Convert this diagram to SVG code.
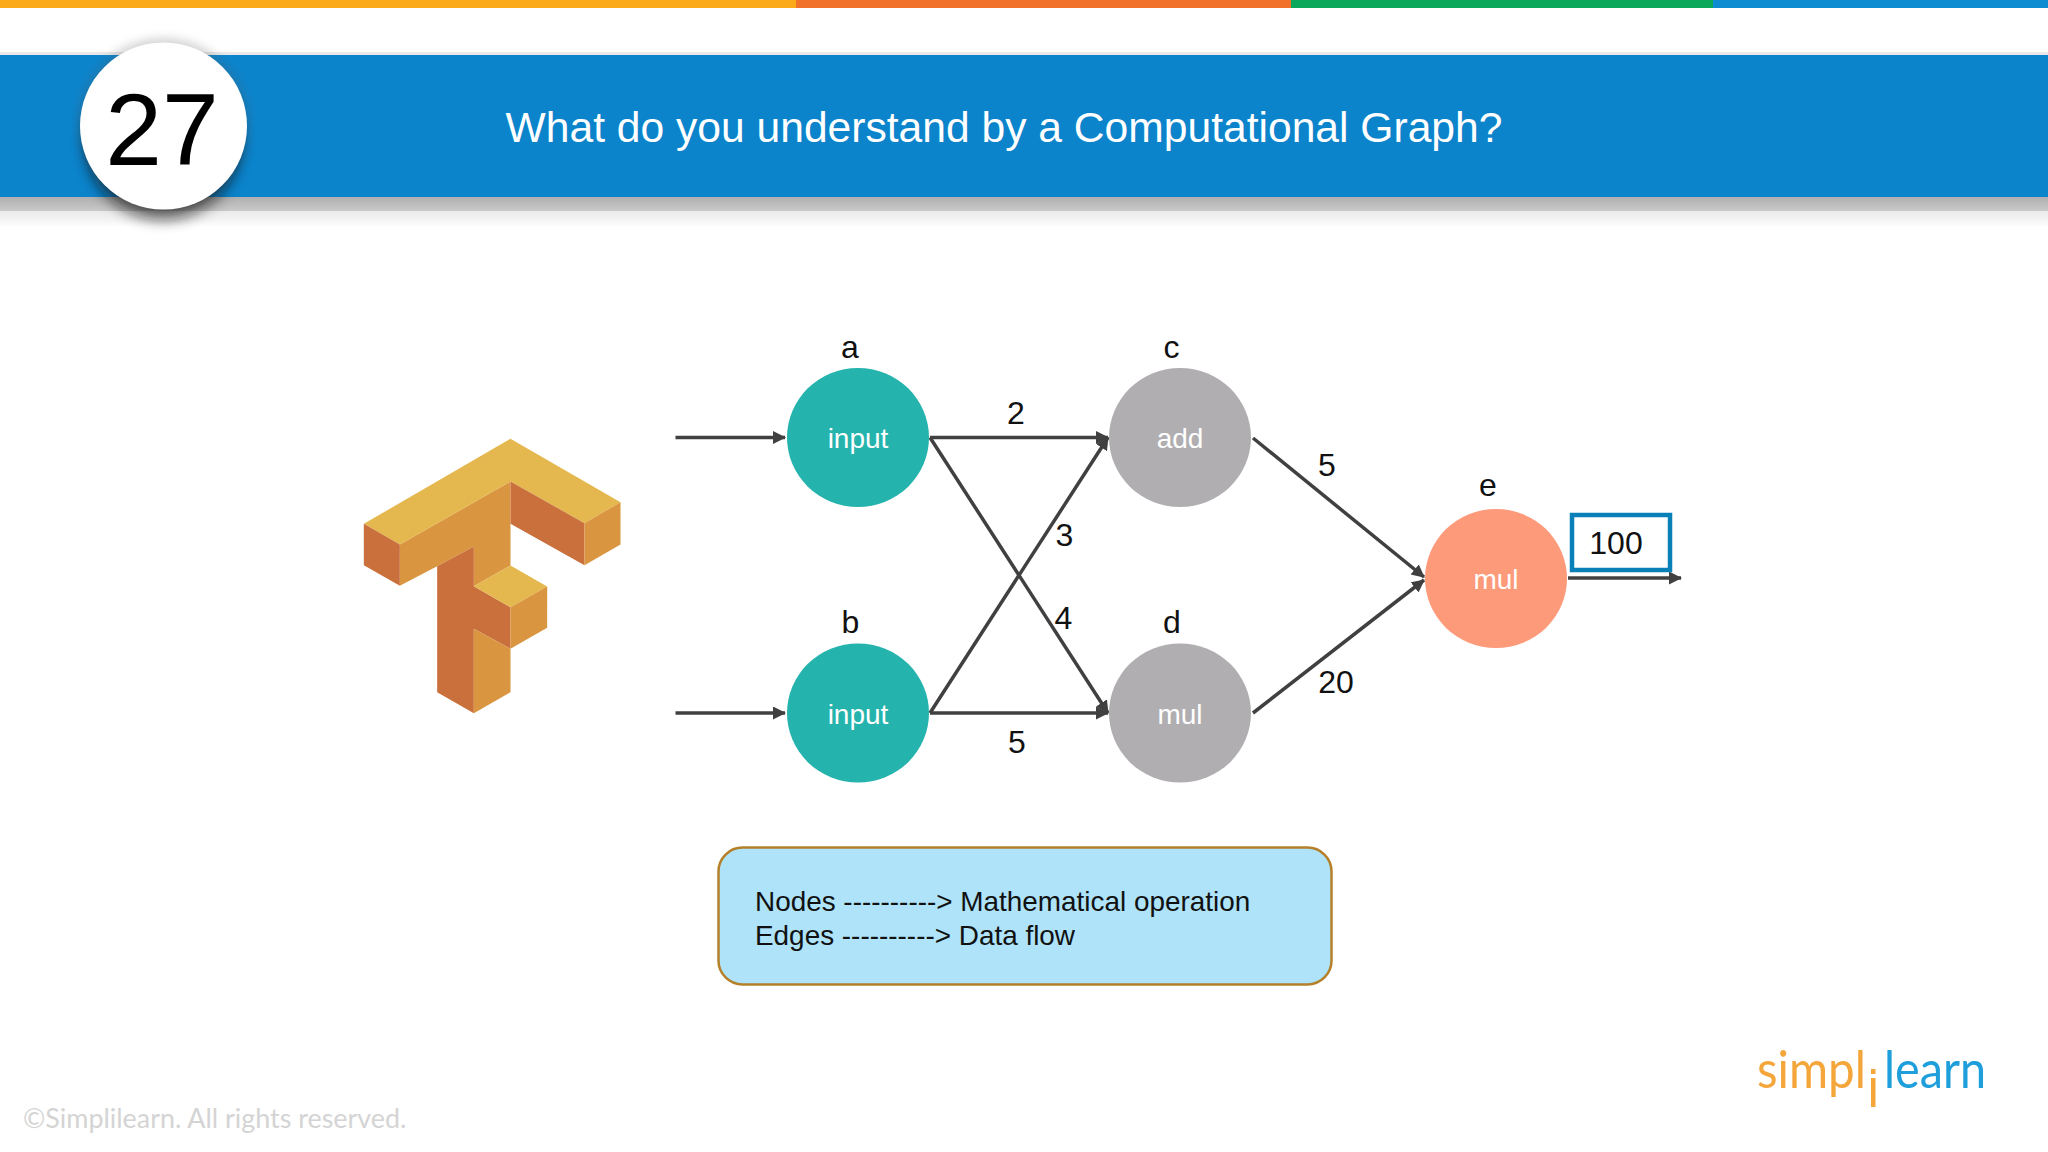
<svg xmlns="http://www.w3.org/2000/svg" width="2048" height="1152" viewBox="0 0 2048 1152">
<style>
text{font-family:"Liberation Sans",Arial,sans-serif}
.l{font-size:32px;fill:#111;text-anchor:middle}
.n{font-size:28px;fill:#fff;text-anchor:middle}
.e{fill:none;stroke:#404040;stroke-width:3.500;marker-end:url(#arr)}
.t1{fill:#e4b84f}.t2{fill:#d9953f}.t3{fill:#c9703c}
</style>
<defs>
<marker id="arr" markerUnits="userSpaceOnUse" markerWidth="14" markerHeight="14" refX="12" refY="6.5" orient="auto"><path d="M0 0L13 6.5L0 13Z" fill="#404040"/></marker>
<filter id="blur" x="-50%" y="-50%" width="200%" height="200%"><feGaussianBlur stdDeviation="7"/></filter>
<filter id="blur2" x="-50%" y="-50%" width="200%" height="200%"><feGaussianBlur stdDeviation="5"/></filter>
<linearGradient id="sh" x1="0" y1="0" x2="0" y2="1"><stop offset="0" stop-color="#b0b0b0"/><stop offset=".45" stop-color="#c8c8c8"/><stop offset=".48" stop-color="#ebebeb"/><stop offset=".75" stop-color="#f3f3f3"/><stop offset="1" stop-color="#fff"/></linearGradient>
</defs>
<rect width="2048" height="1152" fill="#fff"/>
<g id="header">
<rect width="796" height="8" fill="#fbaa19"/>
<rect x="796" width="495" height="8" fill="#f1712a"/>
<rect x="1291" width="422" height="8" fill="#0ba85c"/>
<rect x="1713" width="335" height="8" fill="#0d8cd2"/>
<rect y="52" width="2048" height="3" fill="#e9e9e9"/>
<rect y="197" width="2048" height="30" fill="url(#sh)"/>
<rect y="55" width="2048" height="142" fill="#0c84cc"/>
<text x="1004" y="142" font-size="42.600" fill="#fff" text-anchor="middle">What do you understand by a Computational Graph?</text>
</g>
<g id="badge">
<circle cx="163.500" cy="124" r="86" fill="#555" opacity=".25" filter="url(#blur2)"/>
<circle cx="163" cy="142" r="78" fill="#111" opacity=".6" filter="url(#blur)"/>
<circle cx="163.500" cy="126" r="83.500" fill="#fff"/>
<text x="162" y="165" font-size="102" fill="#000" text-anchor="middle">27</text>
</g>
<g id="tf-logo" transform="translate(340.500 420.500) scale(.33333)">
<path class="t2" d="M178 372L510 183V435L400 497V378L290 437L178 496Z"/>
<path class="t1" d="M510 55L840 245L732 308L510 183L178 372L70 310Z"/>
<path class="t3" d="M70 310L178 372V496L70 434Z"/>
<path class="t3" d="M510 183L732 308V434L510 310Z"/>
<path class="t2" d="M732 308L840 245V372L732 434Z"/>
<path class="t3" d="M290 437L400 378V497L510 560V685L400 625V878L290 815Z"/>
<path class="t1" d="M400 497L510 435L620 498L510 560Z"/>
<path class="t2" d="M510 560L620 498V622L510 685Z"/>
<path class="t2" d="M400 625L510 685V815L400 878Z"/>
</g>
<g id="connectors">
<path class="e" d="M675.500 437.500H785"/>
<path class="e" d="M675.500 713H785"/>
<path class="e" d="M930 437.500H1108"/>
<path class="e" d="M930 437.500L1108 713"/>
<path class="e" d="M930 713L1108 437.500"/>
<path class="e" d="M930 713H1108"/>
<path class="e" d="M1253 438L1424 577"/>
<path class="e" d="M1253 713L1424 580"/>
<path class="e" d="M1568 578H1681"/>
</g>
<g id="edge-labels">
<text class="l" x="1016" y="424">2</text>
<text class="l" x="1064.500" y="546">3</text>
<text class="l" x="1063.500" y="629">4</text>
<text class="l" x="1017" y="753">5</text>
<text class="l" x="1327" y="476">5</text>
<text class="l" x="1336" y="693">20</text>
</g>
<g id="node-a"><ellipse cx="858" cy="437.500" rx="71" ry="69.500" fill="#25b3ad"/><text class="n" x="858" y="448">input</text><text class="l" x="850" y="358">a</text></g>
<g id="node-b"><ellipse cx="858" cy="713" rx="71" ry="69.500" fill="#25b3ad"/><text class="n" x="858" y="724">input</text><text class="l" x="850.500" y="633">b</text></g>
<g id="node-c"><ellipse cx="1180" cy="437.500" rx="71" ry="69.500" fill="#b0aeb1"/><text class="n" x="1180" y="448">add</text><text class="l" x="1171.500" y="358">c</text></g>
<g id="node-d"><ellipse cx="1180" cy="713" rx="71" ry="69.500" fill="#b0aeb1"/><text class="n" x="1180" y="724">mul</text><text class="l" x="1172" y="633">d</text></g>
<g id="node-e"><ellipse cx="1496" cy="578.500" rx="71" ry="69.500" fill="#fd9a7a"/><text class="n" x="1496" y="589">mul</text><text class="l" x="1488" y="496">e</text></g>
<g id="result"><rect x="1572" y="515" width="98" height="55" fill="#fff" stroke="#0a80b8" stroke-width="4.500"/><text class="l" x="1616" y="554">100</text></g>
<g id="legend">
<rect x="718.500" y="847.500" width="613" height="137" rx="24" fill="#aee3f9" stroke="#b5802a" stroke-width="2.500"/>
<text x="755" y="911" font-size="27.900" fill="#111">Nodes ----------&gt; Mathematical operation</text>
<text x="755" y="945" font-size="27.900" fill="#111">Edges ----------&gt; Data flow</text>
</g>
<g id="footer"><text x="23" y="1128" font-size="26.900" fill="#d4d4d4" style="font-family:Lato,'Open Sans',sans-serif">©Simplilearn. All rights reserved.</text></g>
<g id="simplilearn-logo">
<text x="1757" y="1088" font-size="53" fill="#f5a63b" textLength="109" lengthAdjust="spacingAndGlyphs" style="font-family:Lato,'Open Sans',sans-serif">simpl</text>
<rect x="1871" y="1069" width="4.500" height="5" fill="#f5a63b"/>
<rect x="1871" y="1078" width="4.500" height="29" fill="#f5a63b"/>
<text x="1884" y="1088" font-size="53" fill="#1e9fdc" textLength="102" lengthAdjust="spacingAndGlyphs" style="font-family:Lato,'Open Sans',sans-serif">learn</text>
</g>
</svg>
